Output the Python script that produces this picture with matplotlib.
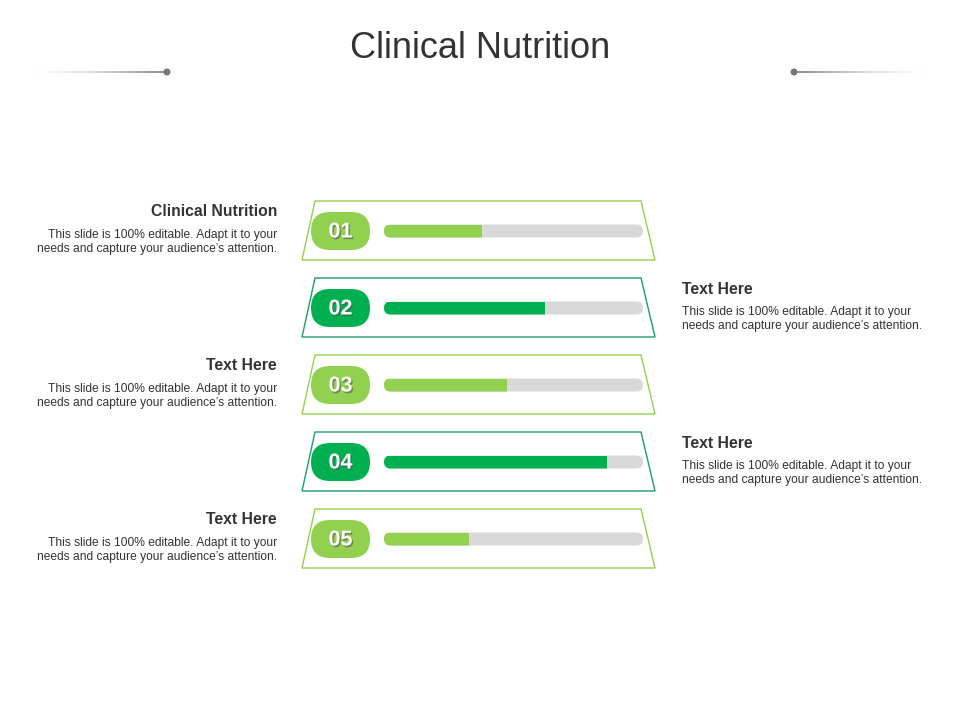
import matplotlib
matplotlib.use('Agg')
import matplotlib.pyplot as plt
import matplotlib.patheffects as pe
from matplotlib.patches import FancyBboxPatch, Polygon, Circle
from matplotlib.collections import LineCollection
import numpy as np

plt.rcParams['font.family'] = ['Liberation Sans', 'DejaVu Sans']

# Chart data
labels = ['01', '02', '03', '04', '05']
progress = [0.38, 0.62, 0.475, 0.86, 0.33]
headings = ['Clinical Nutrition', 'Text Here', 'Text Here', 'Text Here', 'Text Here']
body = "This slide is 100% editable. Adapt it to your\nneeds and capture your audience\u2019s attention."
title = 'Clinical Nutrition'

light_green = '#92D050'
dark_green = '#00B050'
fill_colors = [light_green, dark_green, light_green, dark_green, light_green]
edge_colors = ['#92D050', '#1E9C6A', '#92D050', '#1E9C6A', '#92D050']
track_color = '#D9D9D9'
text_color = '#333333'

fig = plt.figure(figsize=(9.6, 7.2), dpi=100)
ax = fig.add_axes([0, 0, 1, 1])
ax.set_xlim(0, 960)
ax.set_ylim(720, 0)
ax.axis('off')

# Title and decorative lines
ax.text(480, 49, title, ha='center', va='center', fontsize=26, color=text_color)


def fade_line(x0, x1, y, dark_end):
    xs = np.linspace(x0, x1, 60)
    segs = [[(xs[i], y), (xs[i + 1], y)] for i in range(len(xs) - 1)]
    t = np.linspace(0, 1, len(segs))
    if dark_end == 'left':
        t = t[::-1]
    cols = [(0.45, 0.45, 0.45, a) for a in t ** 1.5]
    ax.add_collection(LineCollection(segs, colors=cols, linewidths=1.2))


fade_line(30, 167, 72, 'right')
fade_line(794, 930, 72, 'left')
ax.add_patch(Circle((167, 72), 2.8, color='#777777'))
ax.add_patch(Circle((794, 72), 2.8, color='#777777'))

# Rows
row_y = [231, 308, 385, 462, 539]
track_x0, track_w, track_h = 384, 259, 13

for i, y in enumerate(row_y):
    # trapezoid frame
    trap = Polygon([(315, y - 30), (641, y - 30), (655, y + 29), (302, y + 29)],
                   closed=True, fill=False, edgecolor=edge_colors[i], linewidth=1.0)
    ax.add_patch(trap)

    # number pill
    pill = FancyBboxPatch((311, y - 19), 59, 38,
                          boxstyle='round,pad=0,rounding_size=19',
                          facecolor=fill_colors[i], edgecolor='none')
    ax.add_patch(pill)
    ax.text(340.5, y + 1, labels[i], ha='center', va='center', fontsize=15.5,
            fontweight='bold', color='white',
            path_effects=[pe.withSimplePatchShadow(offset=(1, -1.2), shadow_rgbFace='#555555', alpha=0.6)])

    # progress track + fill
    track = FancyBboxPatch((track_x0, y - track_h / 2), track_w, track_h,
                           boxstyle='round,pad=0,rounding_size=6.5',
                           facecolor=track_color, edgecolor='none')
    ax.add_patch(track)
    bars = ax.barh(y, progress[i] * track_w, left=track_x0, height=track_h,
                   color=fill_colors[i], edgecolor='none')
    for b in bars:
        b.set_clip_path(track)

    # side text
    if i % 2 == 0:
        tx, ha = 277, 'right'
    else:
        tx, ha = 682, 'left'
    ax.text(tx, y - 19, headings[i], ha=ha, va='center', fontsize=11.3,
            fontweight='bold', color=text_color)
    ax.text(tx, y - 2, body, ha=ha, va='top', fontsize=8.65,
            color=text_color, linespacing=1.27)

fig.savefig('out.png', dpi=100, facecolor='white')
